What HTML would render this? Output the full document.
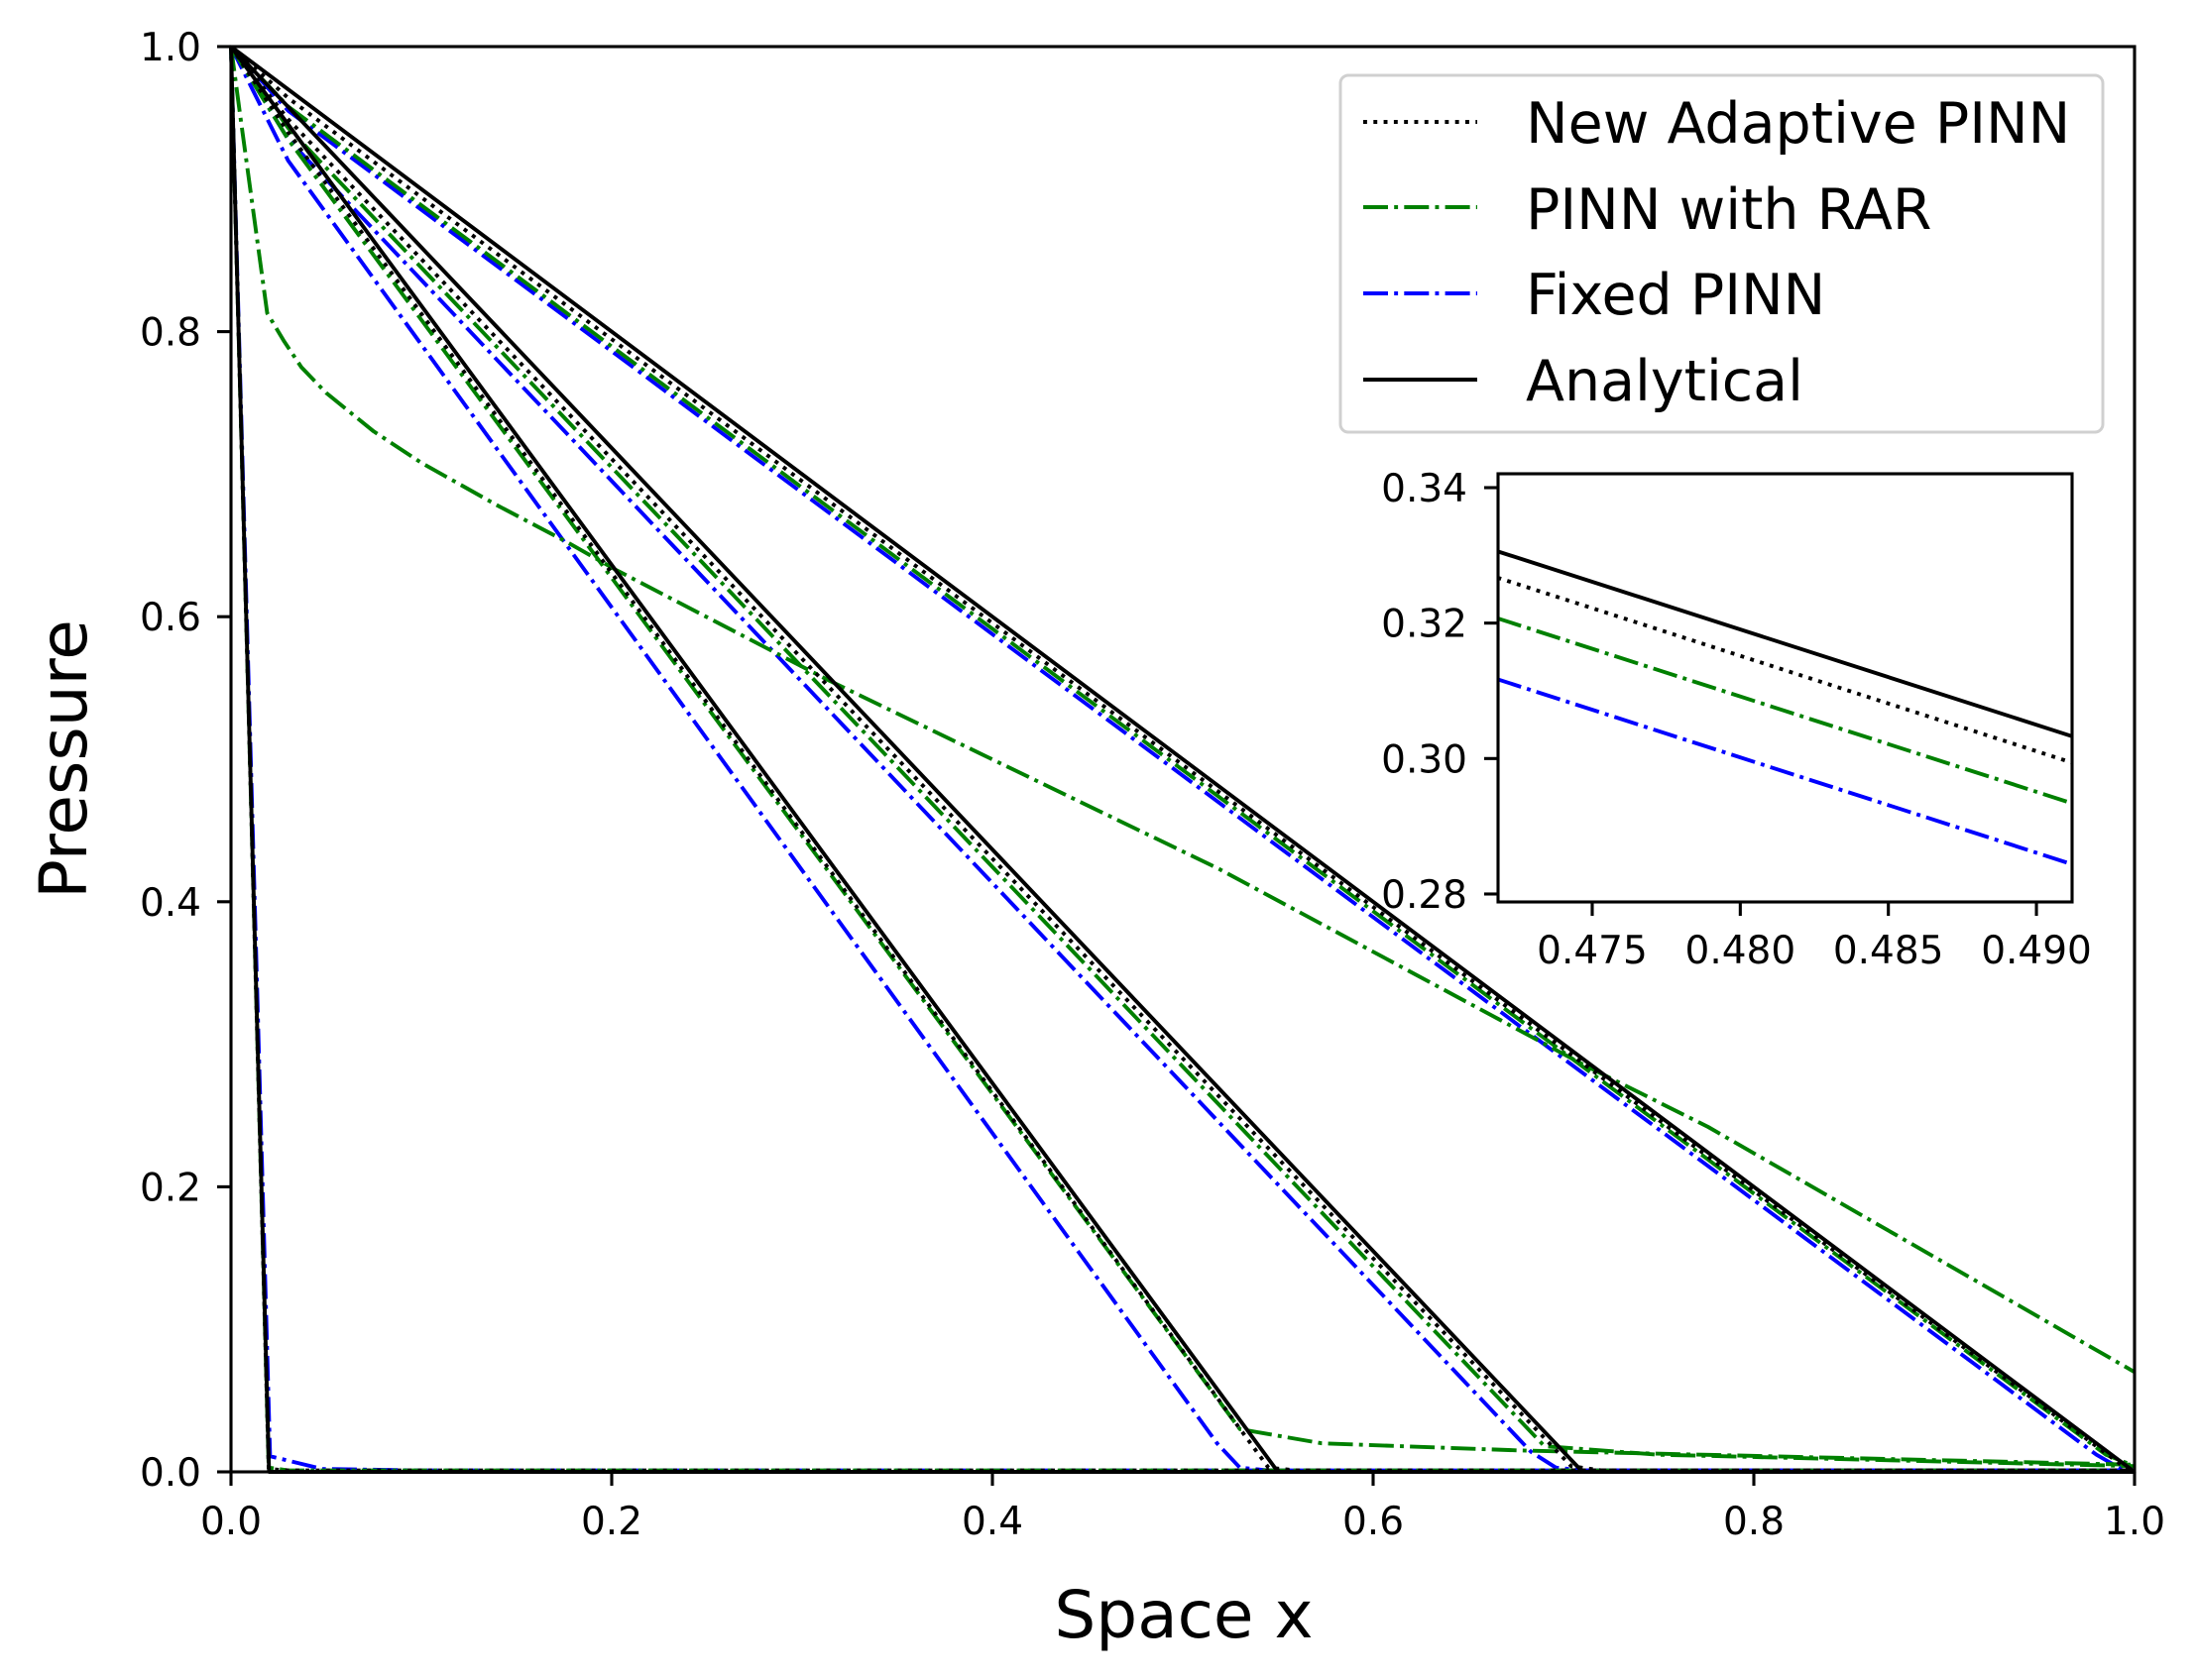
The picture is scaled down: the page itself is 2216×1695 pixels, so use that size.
<!DOCTYPE html>
<html><head><meta charset="utf-8">
<style>
html,body{margin:0;padding:0;background:#fff;}
svg{display:block;}
text{font-family:"DejaVu Sans","Liberation Sans",sans-serif;fill:#000;}
</style></head>
<body>
<svg id="s" width="2216" height="1695" viewBox="0 0 2216 1695" xmlns="http://www.w3.org/2000/svg">
<rect width="2216" height="1695" fill="#fff"/>
<g id="main"></g>
<g id="axes"></g>
<!-- legend -->
<rect x="1352" y="76" width="769" height="360" rx="8" fill="#fff" fill-opacity="0.8" stroke="#d0d0d0" stroke-width="3"/>
<line x1="1375" y1="123" x2="1490" y2="123" stroke="#000" stroke-width="3.9" stroke-dasharray="3.9 6.4"/>
<line x1="1375" y1="209" x2="1490" y2="209" stroke="#008000" stroke-width="3.9" stroke-dasharray="25 6.2 3.9 6.2"/>
<line x1="1375" y1="296" x2="1490" y2="296" stroke="#0000ff" stroke-width="3.9" stroke-dasharray="25 6.2 3.9 6.2"/>
<line x1="1375" y1="383" x2="1490" y2="383" stroke="#000" stroke-width="3.9"/>
<text x="1539" y="144" font-size="57">New Adaptive PINN</text>
<text x="1539" y="231" font-size="57">PINN with RAR</text>
<text x="1539" y="317" font-size="57">Fixed PINN</text>
<text x="1539" y="404" font-size="57">Analytical</text>
<!-- inset -->
<rect x="1511" y="478" width="579" height="432" fill="#fff"/>
<g id="inset"></g>
<rect x="1511" y="478" width="579" height="432" fill="none" stroke="#000" stroke-width="3.1"/>
<g id="insetax"></g>
<text x="1194" y="1652" font-size="66" text-anchor="middle">Space x</text>
<text transform="translate(87,766) rotate(-90)" font-size="66" text-anchor="middle">Pressure</text>
</svg>
<script>
const NS="http://www.w3.org/2000/svg";
function el(p,tag,a,txt){const e=document.createElementNS(NS,tag);for(const k in a)e.setAttribute(k,a[k]);if(txt!==undefined)e.textContent=txt;p.appendChild(e);return e;}
const X=x=>233+1920*x, Y=y=>1485-1438*y;
const DD="25 6.2 3.9 6.2", DOT="3.9 6.4";
const styles={an:{stroke:"#000"},ad:{stroke:"#000",dash:DOT},rar:{stroke:"#008000",dash:DD},fx:{stroke:"#0000ff",dash:DD}};
function line(g,pts,st,fx,fy){
  const d=pts.map((p,i)=>(i?"L":"M")+fx(p[0]).toFixed(1)+","+fy(p[1]).toFixed(1)).join(" ");
  const a={d:d,fill:"none",stroke:st.stroke,"stroke-width":3.9,"stroke-linejoin":"round"};
  if(st.dash)a["stroke-dasharray"]=st.dash;
  el(g,"path",a);
}
const M=document.getElementById("main");
const series=[
 // fixed (blue)
 ["fx",[[0,1],[0.0205,0.011],[0.048,0.002],[0.1,0.001],[1,0.001]]],
 ["fx",[[0,1],[0.03,0.92],[0.518,0.02],[0.53,0.003],[0.545,0.001],[1,0.001]]],
 ["fx",[[0,1],[0.03,0.935],[0.683,0.014],[0.696,0.003],[0.71,0.001],[1,0.001]]],
 ["fx",[[0,1],[0.03,0.955],[0.98,0.012],[0.993,0.002],[1,0.001]]],
 // RAR (green)
 ["rar",[[0,1],[0.005,0.95],[0.019,0.813],[0.028,0.793],[0.037,0.775],[0.05,0.757],[0.075,0.73],[0.1,0.708],[0.14,0.678],[0.177,0.652],[0.202,0.633],[0.313,0.556],[0.519,0.423],[0.71,0.286],[0.776,0.242],[1,0.07]]],
 ["rar",[[0,1],[0.0198,0.003],[0.03,0.001],[1,0.001]]],
 ["rar",[[0,1],[0.03,0.935],[0.53,0.03],[0.573,0.02],[0.677,0.015],[1,0.005]]],
 ["rar",[[0,1],[0.03,0.943],[0.69,0.018],[0.75,0.012],[1,0.004]]],
 ["rar",[[0,1],[0.03,0.958],[0.985,0.012],[1,0.004]]],
 // adaptive (dotted)
 ["ad",[[0,1],[0.0198,0.002],[0.03,0.001],[1,0.001]]],
 ["ad",[[0,1],[0.03,0.94],[0.545,0.003],[0.56,0.001],[1,0.001]]],
 ["ad",[[0,1],[0.03,0.949],[0.704,0.004],[0.72,0.001],[1,0.001]]],
 ["ad",[[0,1],[0.03,0.964],[0.995,0.003],[1,0.001]]],
 // analytical
 ["an",[[0,1],[0.02,0],[1,0]]],
 ["an",[[0,1],[0.55,0]]],
 ["an",[[0,1],[0.71,0]]],
 ["an",[[0,1],[1,0]]],
];
series.forEach(s=>line(M,s[1],styles[s[0]],X,Y));
const A=document.getElementById("axes");
el(A,"rect",{x:233,y:47,width:1920,height:1438,fill:"none",stroke:"#000","stroke-width":3.1});
for(let i=0;i<=5;i++){
  const v=i*0.2, lab=v.toFixed(1);
  const x=X(v), y=Y(v);
  el(A,"line",{x1:x,y1:1485,x2:x,y2:1499,stroke:"#000","stroke-width":3.1});
  el(A,"text",{x:x,y:1548,"font-size":39,"text-anchor":"middle"},lab);
  el(A,"line",{x1:219,y1:y,x2:233,y2:y,stroke:"#000","stroke-width":3.1});
  el(A,"text",{x:203,y:y+14,"font-size":39,"text-anchor":"end"},lab);
}
const IX=x=>1511+(x-0.47182)*29870, IY=y=>492+(0.34-y)*6833;
const I=document.getElementById("inset");
const cp=el(document.getElementById("s"),"clipPath",{id:"ic"});
el(cp,"rect",{x:1511,y:478,width:579,height:432});
I.setAttribute("clip-path","url(#ic)");
const x0=0.4718,x1=0.4913;
const il=[["fx",0.976],["rar",0.985],["ad",0.991],["an",0.9949]];
il.forEach(([k,b])=>{const s=1.408;line(I,[[x0,b-s*x0],[x1,b-s*x1]],styles[k],IX,IY);});
const IA=document.getElementById("insetax");
[0.475,0.48,0.485,0.49].forEach(v=>{const x=IX(v);
  el(IA,"line",{x1:x,y1:910,x2:x,y2:924,stroke:"#000","stroke-width":3.1});
  el(IA,"text",{x:x,y:972,"font-size":39,"text-anchor":"middle"},v.toFixed(3));});
[0.28,0.30,0.32,0.34].forEach(v=>{const y=IY(v);
  el(IA,"line",{x1:1497,y1:y,x2:1511,y2:y,stroke:"#000","stroke-width":3.1});
  el(IA,"text",{x:1480,y:y+14,"font-size":39,"text-anchor":"end"},v.toFixed(2));});
</script>
</body></html>
